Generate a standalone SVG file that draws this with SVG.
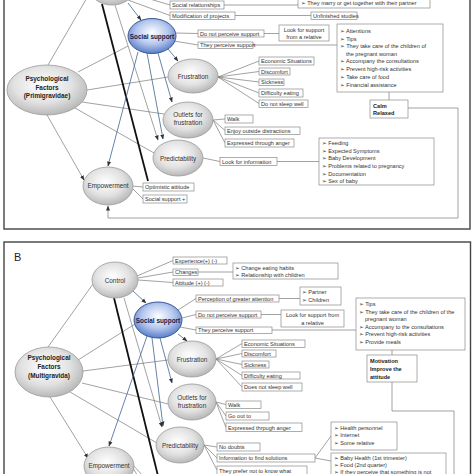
<svg xmlns="http://www.w3.org/2000/svg" width="474" height="474" viewBox="0 0 474 474">
<defs>
<radialGradient id="gg" cx="45%" cy="40%" r="65%">
<stop offset="0" stop-color="#ffffff"/><stop offset="0.55" stop-color="#e2e2e2"/><stop offset="1" stop-color="#b0b0b0"/>
</radialGradient>
<radialGradient id="bg" cx="50%" cy="40%" r="65%">
<stop offset="0" stop-color="#ffffff"/><stop offset="0.5" stop-color="#b7c9ee"/><stop offset="1" stop-color="#4a70c2"/>
</radialGradient>
<marker id="ar" viewBox="0 0 10 10" refX="9" refY="5" markerWidth="5" markerHeight="5" orient="auto-start-reverse" markerUnits="userSpaceOnUse">
<path d="M0,1 L10,5 L0,9 z" fill="#333"/>
</marker>
</defs>
<style>
.nd{fill:url(#gg);stroke:#9a9a9a;stroke-width:0.8}
.sn{fill:url(#bg);stroke:#3a5a9a;stroke-width:1}
.bx{fill:#fff;stroke:#8a8a8a;stroke-width:0.7}
.t{font-family:"Liberation Sans","DejaVu Sans",Arial,sans-serif;font-size:5.6px;fill:#333}
.n{font-family:"Liberation Sans","DejaVu Sans",Arial,sans-serif;font-size:6.4px;fill:#333;text-anchor:middle}
.b{font-weight:bold;fill:#222}
.sb{fill:#14204a}
.c{text-anchor:middle}
.ln{stroke:#7a7a7a;stroke-width:0.7;fill:none}
.bl{stroke:#3f6490;stroke-width:0.8;fill:none}
.k{stroke:#111;stroke-width:1.8;fill:none}
.fr{fill:none;stroke:#444;stroke-width:1.4}
</style>
<rect width="474" height="474" fill="#fff"/>
<rect class="fr" x="4" y="-10" width="466" height="239"/>
<rect class="fr" x="4" y="242" width="466.5" height="250"/>
<text x="14" y="261" font-family="Liberation Sans,Arial,sans-serif" font-size="11" fill="#222">B</text>

<g id="connectors">
<!-- Panel A -->
<path class="ln" d="M133,-6 L170,5"/>
<path class="ln" d="M128,0 L170,15.5"/>
<path class="bl" d="M128,3 L141,20" marker-end="url(#ar)"/>
<path class="ln" d="M224,5 L298,5"/>
<path class="ln" d="M235,15.5 L311,15.5"/>
<path class="ln" d="M175,33 L198,33.5"/>
<path class="ln" d="M174,41 L198,45"/>
<path class="ln" d="M264,33.5 L279,33.5"/>
<path class="ln" d="M253,45 L337,45"/>
<path class="ln" d="M389,92 L389,100"/>
<path class="ln" d="M408,108 L458,108 L458,218 L108,218 L108,206" marker-end="url(#ar)"/>
<path class="bl" d="M168,49 L178,61" marker-end="url(#ar)"/>
<path class="ln" d="M218,77 L259,61 M218,77 L259,71.5 M218,77 L259,82 M218,77 L259,93 M218,77 L259,103.5"/>
<path class="ln" d="M213,120 L225,119 M213,120 L225,130.5 M213,120 L225,143"/>
<path class="ln" d="M203,158 L220,161.5 M277,161.5 L319,161.5"/>
<path class="ln" d="M133,186 L143,187 M133,189 L143,199"/>
<path class="ln" d="M48,65 L88,-4"/>
<path class="ln" d="M78,72 L128,46"/>
<path class="ln" d="M87,90 L168,77"/>
<path class="ln" d="M82,102 L164,114"/>
<path class="ln" d="M75,108 L154,153"/>
<path class="ln" d="M47,115 L84,180" marker-end="url(#ar)"/>
<path class="k" d="M102,4 L148,181"/>
<path class="ln" d="M115,5 L158,140" marker-end="url(#ar)"/>
<path class="bl" d="M138,52 L108,166" marker-end="url(#ar)"/>
<path class="bl" d="M147,53 L163,139" marker-end="url(#ar)"/>
<path class="bl" d="M158,53 L172,102" marker-end="url(#ar)"/>
<!-- Panel B -->
<path class="ln" d="M137,276 L173,260.5 M138,278 L173,272 M138,280 L173,282.5"/>
<path class="ln" d="M198,272 L233,272"/>
<path class="bl" d="M133,291 L146,303" marker-end="url(#ar)"/>
<path class="ln" d="M178,310 L196,298.5 M182,318 L196,314.5 M180,327 L196,330"/>
<path class="ln" d="M279,298.5 L300,298.5 M261,314.5 L281,314.5 M272,330 L356,330"/>
<path class="ln" d="M392,350 L392,355"/>
<path class="ln" d="M392,382 L392,411 L454,411 L454,480"/>
<path class="bl" d="M178,334 L187,341" marker-end="url(#ar)"/>
<path class="ln" d="M216,359 L242,343.5 M216,359 L242,353.5 M216,359 L242,364.5 M216,359 L242,375.5 M216,359 L242,387"/>
<path class="ln" d="M216,402 L226,404.5 M216,402 L226,416 M216,402 L226,427.5"/>
<path class="ln" d="M204,445 L217,447 M204,445 L217,458 M204,445 L217,470"/>
<path class="ln" d="M315,458 L331,436 M315,458 L331,461"/>
<path class="ln" d="M133,465 L143,476 M133,468 L139,478"/>
<path class="ln" d="M48,347 L93,284"/>
<path class="ln" d="M78,360 L135,324"/>
<path class="ln" d="M83,371 L168,360"/>
<path class="ln" d="M82,383 L168,404"/>
<path class="ln" d="M70,392 L157,443"/>
<path class="ln" d="M50,397 L88,458" marker-end="url(#ar)"/>
<path class="k" d="M114,298 L160,484"/>
<path class="ln" d="M124,298 L162,427" marker-end="url(#ar)"/>
<path class="bl" d="M147,336 L109,446" marker-end="url(#ar)"/>
<path class="bl" d="M152,338 L163,426" marker-end="url(#ar)"/>
<path class="bl" d="M160,338 L172,383" marker-end="url(#ar)"/>
</g>

<!-- Panel A nodes -->
<g id="a-control"><ellipse class="nd" cx="112" cy="-13" rx="23" ry="18"/></g>
<g id="a-social"><ellipse class="sn" cx="152" cy="36" rx="24" ry="17.5"/><text class="n b sb" x="152" y="38.5">Social support</text></g>
<g id="a-frustration"><ellipse class="nd" cx="193" cy="76" rx="25" ry="17"/><text class="n" x="193" y="78.5">Frustration</text></g>
<g id="a-outlets"><ellipse class="nd" cx="188" cy="120" rx="25" ry="18"/><text class="n" x="188" y="116.5">Outlets for</text><text class="n" x="188" y="124.5">frustration</text></g>
<g id="a-predict"><ellipse class="nd" cx="178" cy="158" rx="25" ry="18"/><text class="n" x="178" y="160.5">Predictability</text></g>
<g id="a-empower"><ellipse class="nd" cx="108" cy="186" rx="25" ry="19"/><text class="n" x="108" y="188" font-size="5.8">Empowerment</text></g>
<g id="a-psych"><ellipse class="nd" cx="47" cy="90" rx="40" ry="25"/><text class="n b" x="47" y="81">Psychological</text><text class="n b" x="47" y="89.5">Factors</text><text class="n b" x="47" y="98">(Primigravidae)</text></g>

<g id="a-boxes">
<rect class="bx" x="170" y="1" width="54" height="8"/><text class="t" x="172" y="7">Social relationships</text>
<rect class="bx" x="170" y="12" width="65" height="7.5"/><text class="t" x="172" y="18">Modification of projects</text>
<rect class="bx" x="298" y="-4" width="132" height="12"/><text class="t" x="301" y="5">➢ They marry or get together with their partner</text>
<rect class="bx" x="311" y="12" width="46" height="7.5"/><text class="t" x="313" y="18">Unfinished studies</text>
<rect class="bx" x="198" y="30" width="66" height="7"/><text class="t" x="200" y="35.5">Do not perceive support</text>
<rect class="bx" x="198" y="42" width="55" height="6.5"/><text class="t" x="200" y="47">They perceive support</text>
<rect class="bx" x="279" y="25" width="50" height="16"/><text class="t c" x="304" y="31.5">Look for support</text><text class="t c" x="304" y="38.5">from a relative</text>
<rect class="bx" x="337" y="24" width="106" height="68"/>
<text class="t" x="340" y="33">➢ Attentions</text>
<text class="t" x="340" y="40.5">➢ Tips</text>
<text class="t" x="340" y="48">➢ They take care of the children of</text>
<text class="t" x="346" y="55.5">the pregnant woman</text>
<text class="t" x="340" y="63">➢ Accompany the consultations</text>
<text class="t" x="340" y="71">➢ Prevent high-risk activities</text>
<text class="t" x="340" y="79">➢ Take care of food</text>
<text class="t" x="340" y="87">➢ Financial assistance</text>
<rect class="bx" x="370" y="100" width="38" height="18"/><text class="t b" x="373" y="107.5">Calm</text><text class="t b" x="373" y="115">Relaxed</text>
<rect class="bx" x="259" y="57" width="55" height="8"/><text class="t" x="261" y="63">Economic Situations</text>
<rect class="bx" x="259" y="68" width="31" height="7"/><text class="t" x="261" y="73.5">Discomfort</text>
<rect class="bx" x="259" y="79" width="25" height="6.5"/><text class="t" x="261" y="84">Sickness</text>
<rect class="bx" x="259" y="89" width="44" height="8"/><text class="t" x="261" y="95">Difficulty eating</text>
<rect class="bx" x="259" y="100" width="49" height="7.5"/><text class="t" x="261" y="106">Do not sleep well</text>
<rect class="bx" x="225" y="115" width="28" height="8"/><text class="t" x="227" y="121">Walk</text>
<rect class="bx" x="225" y="127" width="75" height="7.5"/><text class="t" x="227" y="133">Enjoy outside distractions</text>
<rect class="bx" x="225" y="139" width="69" height="8"/><text class="t" x="227" y="145">Expressed through anger</text>
<rect class="bx" x="220" y="157.5" width="57" height="8"/><text class="t" x="222" y="163.5">Look for information</text>
<rect class="bx" x="319" y="138" width="115" height="47"/>
<text class="t" x="322" y="145">➢ Feeding</text>
<text class="t" x="322" y="152.5">➢ Expected Symptoms</text>
<text class="t" x="322" y="160">➢ Baby Development</text>
<text class="t" x="322" y="168">➢ Problems related to pregnancy</text>
<text class="t" x="322" y="175.5">➢ Documentation</text>
<text class="t" x="322" y="183">➢ Sex of baby</text>
<rect class="bx" x="143" y="183" width="51" height="8"/><text class="t" x="145" y="189">Optimistic attitude</text>
<rect class="bx" x="143" y="195" width="44" height="8"/><text class="t" x="145" y="201">Social support +</text>
</g>

<!-- Panel B nodes -->
<g id="b-control"><ellipse class="nd" cx="115" cy="280" rx="23" ry="18"/><text class="n" x="115" y="282.5">Control</text></g>
<g id="b-social"><ellipse class="sn" cx="158" cy="320" rx="24" ry="18"/><text class="n b sb" x="158" y="322.5">Social support</text></g>
<g id="b-frustration"><ellipse class="nd" cx="192" cy="359" rx="24" ry="18"/><text class="n" x="192" y="361.5">Frustration</text></g>
<g id="b-outlets"><ellipse class="nd" cx="192" cy="402" rx="24" ry="18"/><text class="n" x="192" y="399.5">Outlets for</text><text class="n" x="192" y="408">frustration</text></g>
<g id="b-predict"><ellipse class="nd" cx="180" cy="445" rx="24" ry="18"/><text class="n" x="180" y="447.5">Predictability</text></g>
<g id="b-empower"><ellipse class="nd" cx="109" cy="466" rx="25" ry="19"/><text class="n" x="109" y="468" font-size="5.8">Empowerment</text></g>
<g id="b-psych"><ellipse class="nd" cx="49" cy="372" rx="34" ry="25"/><text class="n b" x="49" y="360">Psychological</text><text class="n b" x="49" y="369">Factors</text><text class="n b" x="49" y="377.5">(Multigravida)</text></g>

<g id="b-boxes">
<rect class="bx" x="173" y="257" width="54" height="7"/><text class="t" x="175" y="262.5">Experience(+) (-)</text>
<rect class="bx" x="173" y="269" width="25" height="6.5"/><text class="t" x="175" y="274">Changes</text>
<rect class="bx" x="173" y="279" width="50" height="7"/><text class="t" x="175" y="284.5">Attitude (+) (-)</text>
<rect class="bx" x="233" y="263" width="105" height="16"/><text class="t" x="235" y="269.5">➢ Change eating habits</text><text class="t" x="235" y="277">➢ Relationship with children</text>
<rect class="bx" x="196" y="295" width="83" height="7"/><text class="t" x="198" y="300.5">Perception of greater attention</text>
<rect class="bx" x="300" y="287" width="41" height="18"/><text class="t" x="302" y="294">➢ Partner</text><text class="t" x="302" y="302">➢ Children</text>
<rect class="bx" x="196" y="311" width="65" height="7"/><text class="t" x="198" y="316.5">Do not perceive support</text>
<rect class="bx" x="281" y="310" width="63" height="17"/><text class="t c" x="312.5" y="316.5">Look for support from</text><text class="t c" x="312.5" y="324.5">a relative</text>
<rect class="bx" x="196" y="327" width="76" height="6.5"/><text class="t" x="198" y="332">They perceive support</text>
<rect class="bx" x="356" y="298" width="109" height="52"/>
<text class="t" x="359" y="306">➢ Tips</text>
<text class="t" x="359" y="313.5">➢ They take care of the children of the</text>
<text class="t" x="365" y="321">pregnant woman</text>
<text class="t" x="359" y="328.5">➢ Accompany to the consultations</text>
<text class="t" x="359" y="336">➢ Prevent high-risk activities</text>
<text class="t" x="359" y="343.5">➢ Provide meals</text>
<rect class="bx" x="367" y="355" width="50" height="27"/><text class="t b" x="370" y="363">Motivation</text><text class="t b" x="370" y="371">Improve the</text><text class="t b" x="370" y="379">attitude</text>
<rect class="bx" x="242" y="340" width="63" height="7.5"/><text class="t" x="244" y="345.5">Economic Situations</text>
<rect class="bx" x="242" y="350" width="34" height="7"/><text class="t" x="244" y="355.5">Discomfort</text>
<rect class="bx" x="242" y="361" width="27" height="7"/><text class="t" x="244" y="366.5">Sickness</text>
<rect class="bx" x="242" y="372" width="58" height="7"/><text class="t" x="244" y="377.5">Difficulty eating</text>
<rect class="bx" x="242" y="383" width="60" height="8"/><text class="t" x="244" y="389">Does not sleep well</text>
<rect class="bx" x="226" y="401" width="35" height="7.5"/><text class="t" x="228" y="406.5">Walk</text>
<rect class="bx" x="226" y="412" width="43" height="8"/><text class="t" x="228" y="418">Go out to</text>
<rect class="bx" x="226" y="423" width="76" height="8.5"/><text class="t" x="228" y="429.5">Expressed thrpugh anger</text>
<rect class="bx" x="217" y="443" width="43" height="8"/><text class="t" x="219" y="449">No doubts</text>
<rect class="bx" x="217" y="454" width="98" height="8"/><text class="t" x="219" y="460">Information to find solutions</text>
<rect class="bx" x="217" y="466" width="90" height="14"/><text class="t" x="219" y="473">They prefer not to know what</text>
<rect class="bx" x="331" y="422" width="66" height="28"/><text class="t" x="334" y="429.5">➢ Health personnel</text><text class="t" x="334" y="437">➢ Internet</text><text class="t" x="334" y="444.5">➢ Some relative</text>
<rect class="bx" x="331" y="453" width="115" height="30"/><text class="t" x="334" y="459.5">➢ Baby Health (1st trimester)</text><text class="t" x="334" y="467">➢ Food (2nd quarter)</text><text class="t" x="334" y="473.5">➢ If they perceive that something is not</text>
</g>
</svg>
